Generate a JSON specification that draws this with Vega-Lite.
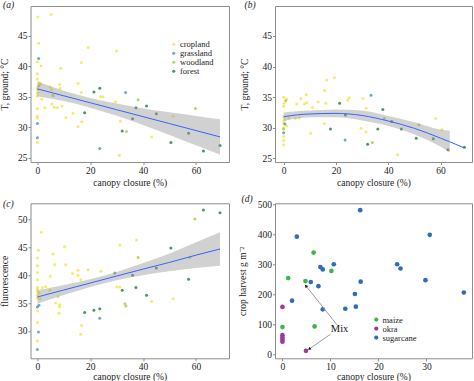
{
  "$schema": "https://vega.github.io/schema/vega-lite/v6.json",
  "autosize": {"type": "none"},
  "padding": {"left": 30.5, "top": 6, "right": 443.5, "bottom": 375},
  "background": "white",
  "config": {
    "font": "Liberation Serif",
    "view": {"stroke": "#8c8c8c", "strokeWidth": 1},
    "axis": {"domain": false, "grid": false, "tickColor": "#8c8c8c", "tickSize": 2.5, "labelFontSize": 9.5, "labelColor": "#222222", "titleFontSize": 9.5, "titleFontWeight": "normal", "titleColor": "#222222", "labelFont": "Liberation Serif", "titleFont": "Liberation Serif", "labelOverlap": false, "labelBound": false, "labelFlush": false},
    "axisX": {"labelPadding": 0.5, "titlePadding": 3},
    "axisY": {"labelPadding": 1},
    "legend": {"title": null, "labelFont": "Liberation Serif", "labelFontSize": 8.5, "labelColor": "#222222", "rowPadding": -3, "labelOffset": 2, "symbolType": "circle", "symbolStrokeWidth": 0, "orient": "none"},
    "title": {"anchor": "start", "frame": "group", "offset": 0, "baseline": "middle", "fontSize": 9.5, "fontStyle": "italic", "fontWeight": "normal", "font": "Liberation Serif", "color": "#222222"}
  },
  "datasets": {
    "ptsA": [
      {"x":0.2,"y":48.1,"type":"cropland"},{"x":5.2,"y":48.5,"type":"cropland"},{"x":0.5,"y":43.8,"type":"cropland"},{"x":19.2,"y":43.1,"type":"cropland"},{"x":29.9,"y":42.5,"type":"cropland"},{"x":0,"y":40.7,"type":"cropland"},{"x":1.4,"y":40.1,"type":"cropland"},{"x":16.6,"y":40.6,"type":"cropland"},{"x":8.8,"y":39.7,"type":"cropland"},{"x":0,"y":38.8,"type":"cropland"},{"x":0,"y":37.9,"type":"cropland"},{"x":0.9,"y":37.3,"type":"cropland"},{"x":1.2,"y":37.0,"type":"cropland"},{"x":0,"y":36.5,"type":"cropland"},{"x":0,"y":36.1,"type":"cropland"},{"x":0,"y":35.6,"type":"cropland"},{"x":0,"y":35.1,"type":"cropland"},{"x":4.8,"y":36.6,"type":"cropland"},{"x":5.4,"y":36.2,"type":"cropland"},{"x":8.4,"y":37.0,"type":"cropland"},{"x":8.6,"y":36.4,"type":"cropland"},{"x":15.4,"y":37.2,"type":"cropland"},{"x":16.6,"y":35.7,"type":"cropland"},{"x":23.9,"y":35.0,"type":"cropland"},{"x":24.8,"y":35.0,"type":"cropland"},{"x":1.7,"y":34.6,"type":"cropland"},{"x":5.5,"y":33.8,"type":"cropland"},{"x":6.4,"y":33.3,"type":"cropland"},{"x":2.8,"y":33.2,"type":"cropland"},{"x":9.3,"y":33.5,"type":"cropland"},{"x":0,"y":33.1,"type":"cropland"},{"x":13.5,"y":32.3,"type":"cropland"},{"x":0,"y":31.8,"type":"cropland"},{"x":0,"y":31.5,"type":"cropland"},{"x":10.8,"y":31.6,"type":"cropland"},{"x":16.8,"y":30.9,"type":"cropland"},{"x":15.4,"y":30.1,"type":"cropland"},{"x":0,"y":27.5,"type":"cropland"},{"x":29.5,"y":34.2,"type":"cropland"},{"x":31.4,"y":31.0,"type":"cropland"},{"x":31.0,"y":25.4,"type":"cropland"},{"x":43.2,"y":28.4,"type":"cropland"},{"x":51.4,"y":31.8,"type":"cropland"},{"x":7.6,"y":33.2,"type":"cropland"},
      {"x":0.5,"y":36.8,"type":"woodland"},{"x":33.7,"y":29.3,"type":"woodland"},{"x":38.1,"y":34.5,"type":"woodland"},{"x":59.8,"y":33.1,"type":"woodland"},{"x":5.9,"y":35.2,"type":"woodland"},
      {"x":0.5,"y":41.3,"type":"grassland"},{"x":0,"y":30.6,"type":"grassland"},{"x":0,"y":28.3,"type":"grassland"},{"x":23.6,"y":26.5,"type":"grassland"},{"x":33.4,"y":35.7,"type":"grassland"},
      {"x":17.9,"y":32.4,"type":"forest"},{"x":21.4,"y":35.8,"type":"forest"},{"x":23.6,"y":36.4,"type":"forest"},{"x":32.1,"y":29.4,"type":"forest"},{"x":36.0,"y":31.4,"type":"forest"},{"x":37.3,"y":33.2,"type":"forest"},{"x":41.3,"y":33.5,"type":"forest"},{"x":45.0,"y":32.2,"type":"forest"},{"x":50.5,"y":27.5,"type":"forest"},{"x":57.2,"y":29.0,"type":"forest"},{"x":62.8,"y":26.1,"type":"forest"},{"x":69.1,"y":27.0,"type":"forest"}
    ],
    "fitA": [
      {"x":0,"fit":36.3,"lo":35.1,"hi":37.5},{"x":10,"fit":35.16,"lo":34.31,"hi":36.01},{"x":20,"fit":34.02,"lo":33.22,"hi":34.82},{"x":30,"fit":32.88,"lo":31.88,"hi":33.88},{"x":40,"fit":31.74,"lo":30.39,"hi":33.09},{"x":50,"fit":30.6,"lo":28.75,"hi":32.45},{"x":60,"fit":29.46,"lo":27.06,"hi":31.86},{"x":69.1,"fit":28.42,"lo":25.52,"hi":31.32}
    ],
    "ptsB": [
      {"x":0,"y":35.0,"type":"cropland"},{"x":1.1,"y":34.7,"type":"cropland"},{"x":0.2,"y":34.0,"type":"cropland"},{"x":0,"y":33.5,"type":"cropland"},{"x":0,"y":31.8,"type":"cropland"},{"x":0.5,"y":31.3,"type":"cropland"},{"x":0,"y":31.0,"type":"cropland"},{"x":0,"y":30.7,"type":"cropland"},{"x":1.2,"y":30.3,"type":"cropland"},{"x":0,"y":30.0,"type":"cropland"},{"x":0,"y":28.6,"type":"cropland"},{"x":0,"y":27.9,"type":"cropland"},{"x":0,"y":27.2,"type":"cropland"},{"x":5.0,"y":33.9,"type":"cropland"},{"x":6.6,"y":34.8,"type":"cropland"},{"x":8.0,"y":33.9,"type":"cropland"},{"x":8.6,"y":35.4,"type":"cropland"},{"x":8.8,"y":34.1,"type":"cropland"},{"x":10.4,"y":29.1,"type":"cropland"},{"x":11.0,"y":33.3,"type":"cropland"},{"x":13.2,"y":34.2,"type":"cropland"},{"x":15.5,"y":30.7,"type":"cropland"},{"x":15.6,"y":36.1,"type":"cropland"},{"x":16.1,"y":34.0,"type":"cropland"},{"x":16.5,"y":37.8,"type":"cropland"},{"x":19.4,"y":38.2,"type":"cropland"},{"x":24.5,"y":34.5,"type":"cropland"},{"x":25.1,"y":34.9,"type":"cropland"},{"x":29.6,"y":29.9,"type":"cropland"},{"x":30.3,"y":34.8,"type":"cropland"},{"x":31.5,"y":33.2,"type":"cropland"},{"x":31.5,"y":29.3,"type":"cropland"},{"x":43.6,"y":25.6,"type":"cropland"},{"x":58.1,"y":31.5,"type":"cropland"},{"x":60.5,"y":29.7,"type":"cropland"},{"x":6.0,"y":31.6,"type":"cropland"},{"x":4.5,"y":31.5,"type":"cropland"},{"x":2.0,"y":31.6,"type":"cropland"},
      {"x":0.8,"y":34.4,"type":"woodland"},{"x":0,"y":29.8,"type":"woodland"},{"x":33.9,"y":27.6,"type":"woodland"},{"x":38.5,"y":31.5,"type":"woodland"},{"x":51.7,"y":30.5,"type":"woodland"},
      {"x":0,"y":29.2,"type":"grassland"},{"x":23.5,"y":28.0,"type":"grassland"},{"x":33.4,"y":35.3,"type":"grassland"},{"x":0.5,"y":30.6,"type":"grassland"},
      {"x":17.9,"y":29.8,"type":"forest"},{"x":21.4,"y":34.0,"type":"forest"},{"x":23.6,"y":32.1,"type":"forest"},{"x":32.1,"y":27.3,"type":"forest"},{"x":36.0,"y":29.8,"type":"forest"},{"x":37.9,"y":33.0,"type":"forest"},{"x":41.3,"y":31.0,"type":"forest"},{"x":45.0,"y":29.8,"type":"forest"},{"x":50.7,"y":28.3,"type":"forest"},{"x":57.2,"y":28.2,"type":"forest"},{"x":62.8,"y":26.4,"type":"forest"},{"x":69.1,"y":26.8,"type":"forest"}
    ],
    "fitB": [
      {"x":0,"fit":31.8,"lo":31.1,"hi":32.5},{"x":5,"fit":32.1,"lo":31.5,"hi":32.7},{"x":10,"fit":32.25,"lo":31.7,"hi":32.8},{"x":20,"fit":32.35,"lo":31.7,"hi":33.0},{"x":30,"fit":32.0,"lo":31.2,"hi":32.8},{"x":40,"fit":31.1,"lo":30.3,"hi":31.9},{"x":50,"fit":29.9,"lo":28.9,"hi":30.9},{"x":60,"fit":28.3,"lo":26.9,"hi":29.7},{"x":63.5,"fit":27.7,"lo":26.0,"hi":29.5}
    ],
    "fitBtail": [
      {"x":63.5,"fit":27.7},{"x":69.1,"fit":26.7}
    ],
    "ptsC": [
      {"x":1.5,"y":47.7,"type":"cropland"},{"x":0.4,"y":44.5,"type":"cropland"},{"x":0,"y":43.1,"type":"cropland"},{"x":0,"y":41.7,"type":"cropland"},{"x":0,"y":40.5,"type":"cropland"},{"x":0,"y":39.2,"type":"cropland"},{"x":0,"y":37.8,"type":"cropland"},{"x":0,"y":37.5,"type":"cropland"},{"x":0,"y":37.1,"type":"cropland"},{"x":0.5,"y":36.8,"type":"cropland"},{"x":0,"y":36.4,"type":"cropland"},{"x":0,"y":35.9,"type":"cropland"},{"x":1.0,"y":35.8,"type":"cropland"},{"x":0,"y":31.5,"type":"cropland"},{"x":0,"y":28.2,"type":"cropland"},{"x":5.9,"y":43.8,"type":"cropland"},{"x":10.3,"y":45.1,"type":"cropland"},{"x":6.6,"y":41.9,"type":"cropland"},{"x":10.7,"y":41.9,"type":"cropland"},{"x":3.1,"y":38.0,"type":"cropland"},{"x":1.9,"y":37.8,"type":"cropland"},{"x":7.8,"y":36.2,"type":"cropland"},{"x":6.9,"y":35.0,"type":"cropland"},{"x":8.4,"y":34.7,"type":"cropland"},{"x":8.4,"y":34.3,"type":"cropland"},{"x":8.2,"y":33.2,"type":"cropland"},{"x":4.9,"y":39.8,"type":"cropland"},{"x":13.3,"y":40.3,"type":"cropland"},{"x":15.4,"y":40.9,"type":"cropland"},{"x":15.4,"y":40.0,"type":"cropland"},{"x":16.4,"y":39.2,"type":"cropland"},{"x":19.2,"y":41.0,"type":"cropland"},{"x":24.0,"y":40.7,"type":"cropland"},{"x":16.7,"y":31.0,"type":"cropland"},{"x":16.4,"y":29.4,"type":"cropland"},{"x":31.2,"y":45.4,"type":"cropland"},{"x":30.1,"y":37.9,"type":"cropland"},{"x":31.2,"y":37.9,"type":"cropland"},{"x":37.5,"y":46.3,"type":"cropland"},{"x":43.2,"y":35.3,"type":"cropland"},{"x":51.4,"y":35.8,"type":"cropland"},{"x":4.8,"y":37.3,"type":"cropland"},{"x":0,"y":33.6,"type":"cropland"},
      {"x":38.1,"y":43.2,"type":"woodland"},{"x":33.1,"y":34.9,"type":"woodland"},{"x":33.5,"y":34.5,"type":"woodland"},{"x":59.6,"y":50.1,"type":"woodland"},{"x":57.7,"y":43.2,"type":"woodland"},
      {"x":0,"y":34.3,"type":"grassland"},{"x":0.6,"y":34.6,"type":"grassland"},{"x":0.4,"y":29.8,"type":"grassland"},{"x":0,"y":26.7,"type":"grassland"},{"x":23.6,"y":32.3,"type":"grassland"},{"x":29.3,"y":40.4,"type":"grassland"},
      {"x":17.9,"y":33.3,"type":"forest"},{"x":21.4,"y":33.7,"type":"forest"},{"x":23.6,"y":34.0,"type":"forest"},{"x":32.1,"y":37.3,"type":"forest"},{"x":36.0,"y":40.0,"type":"forest"},{"x":37.3,"y":37.8,"type":"forest"},{"x":41.3,"y":36.4,"type":"forest"},{"x":45.0,"y":41.3,"type":"forest"},{"x":50.5,"y":44.9,"type":"forest"},{"x":57.2,"y":39.3,"type":"forest"},{"x":62.8,"y":51.7,"type":"forest"},{"x":69.1,"y":51.2,"type":"forest"}
    ],
    "fitC": [
      {"x":0,"fit":36.1,"lo":34.9,"hi":37.3},{"x":10,"fit":37.35,"lo":36.45,"hi":38.25},{"x":20,"fit":38.6,"lo":37.9,"hi":39.3},{"x":30,"fit":39.85,"lo":39.1,"hi":40.6},{"x":40,"fit":41.1,"lo":40.0,"hi":42.2},{"x":50,"fit":42.3,"lo":40.7,"hi":43.9},{"x":60,"fit":43.6,"lo":41.3,"hi":45.9},{"x":69.1,"fit":44.7,"lo":41.7,"hi":47.7}
    ],
    "ptsD": [
      {"x":3.0,"y":392,"crop":"sugarcane"},{"x":7.9,"y":291,"crop":"sugarcane"},{"x":8.4,"y":283,"crop":"sugarcane"},{"x":10.7,"y":300,"crop":"sugarcane"},{"x":5.9,"y":241,"crop":"sugarcane"},{"x":7.5,"y":227,"crop":"sugarcane"},{"x":2.0,"y":179,"crop":"sugarcane"},{"x":8.4,"y":150,"crop":"sugarcane"},{"x":16.2,"y":480,"crop":"sugarcane"},{"x":13.1,"y":152,"crop":"sugarcane"},{"x":15.3,"y":159,"crop":"sugarcane"},{"x":15.1,"y":201,"crop":"sugarcane"},{"x":16.3,"y":242,"crop":"sugarcane"},{"x":30.7,"y":398,"crop":"sugarcane"},{"x":23.9,"y":300,"crop":"sugarcane"},{"x":24.6,"y":286,"crop":"sugarcane"},{"x":29.8,"y":247,"crop":"sugarcane"},{"x":37.8,"y":206,"crop":"sugarcane"},
      {"x":6.5,"y":339,"crop":"maize"},{"x":10.2,"y":278,"crop":"maize"},{"x":1.2,"y":254,"crop":"maize"},{"x":4.8,"y":244,"crop":"maize"},{"x":0,"y":91,"crop":"maize"},{"x":6.7,"y":93,"crop":"maize"},
      {"x":0,"y":158,"crop":"okra"},{"x":0,"y":64,"crop":"okra"},{"x":0,"y":56,"crop":"okra"},{"x":0,"y":49,"crop":"okra"},{"x":0,"y":42,"crop":"okra"},{"x":4.9,"y":12,"crop":"okra"}
    ],
    "arrowsD": [
      {"x":11.4,"y":98,"x2":4.9,"y2":228,"ang":320},
      {"x":10.0,"y":67,"x2":5.6,"y2":18,"ang":235}
    ],
    "labelD": [
      {"x":11.9,"y":84,"text":"Mix"}
    ]
  },
  "columns": 2,
  "bounds": "flush",
  "spacing": {"row": 41.3, "column": 45.5},
  "resolve": {"scale": {"color": "independent", "x": "independent", "y": "independent"}, "legend": {"color": "independent"}},
  "concat": [
    {
      "width": 198.5, "height": 156,
      "title": {"text": "(a)", "dx": -27.5, "dy": 7},
      "layer": [
        {"data": {"name": "ptsA"}, "mark": {"type": "circle", "size": 9, "opacity": 0.8},
         "encoding": {
           "x": {"field": "x", "type": "quantitative", "scale": {"domain": [-2.6, 72.5], "nice": false, "zero": false}, "axis": {"values": [0,20,40,60], "tickCount": 20, "title": "canopy closure (%)"}},
           "y": {"field": "y", "type": "quantitative", "scale": {"domain": [24.3, 49.9], "nice": false, "zero": false}, "axis": {"values": [25,30,35,40,45], "tickCount": 20, "title": "T, ground; °C", "titlePadding": 8}},
           "color": {"field": "type", "type": "nominal", "scale": {"domain": ["cropland","grassland","woodland","forest"], "range": ["#f3e646","#4a93ad","#a9c93c","#1f7a3a"]},
             "legend": {"orient": "none", "legendX": 139, "legendY": 34, "symbolSize": 10, "rowPadding": -3}}
         }},
        {"data": {"name": "fitA"}, "mark": {"type": "area", "color": "#999999", "opacity": 0.45, "interpolate": "monotone"},
         "encoding": {"x": {"field": "x", "type": "quantitative", "title": "canopy closure (%)"}, "y": {"field": "lo", "type": "quantitative", "title": "T, ground; °C"}, "y2": {"field": "hi"}}},
        {"data": {"name": "fitA"}, "mark": {"type": "line", "color": "#3366ff", "strokeWidth": 1, "interpolate": "monotone"},
         "encoding": {"x": {"field": "x", "type": "quantitative", "title": "canopy closure (%)"}, "y": {"field": "fit", "type": "quantitative", "title": "T, ground; °C"}}}
      ]
    },
    {
      "width": 197, "height": 156,
      "title": {"text": "(b)", "dx": -30.5, "dy": 7},
      "layer": [
        {"data": {"name": "ptsB"}, "mark": {"type": "circle", "size": 9, "opacity": 0.8},
         "encoding": {
           "x": {"field": "x", "type": "quantitative", "scale": {"domain": [-3.3, 72], "nice": false, "zero": false}, "axis": {"values": [0,20,40,60], "tickCount": 20, "title": "canopy closure (%)"}},
           "y": {"field": "y", "type": "quantitative", "scale": {"domain": [24.4, 49.9], "nice": false, "zero": false}, "axis": {"values": [25,30,35,40,45], "tickCount": 20, "title": "T, ground; °C", "titlePadding": 12.5}},
           "color": {"field": "type", "type": "nominal", "scale": {"domain": ["cropland","grassland","woodland","forest"], "range": ["#f3e646","#4a93ad","#a9c93c","#1f7a3a"]}, "legend": null}
         }},
        {"data": {"name": "fitB"}, "mark": {"type": "area", "color": "#999999", "opacity": 0.45, "interpolate": "monotone"},
         "encoding": {"x": {"field": "x", "type": "quantitative", "title": "canopy closure (%)"}, "y": {"field": "lo", "type": "quantitative", "title": "T, ground; °C"}, "y2": {"field": "hi"}}},
        {"data": {"name": "fitB"}, "mark": {"type": "line", "color": "#3366ff", "strokeWidth": 1, "interpolate": "monotone"},
         "encoding": {"x": {"field": "x", "type": "quantitative", "title": "canopy closure (%)"}, "y": {"field": "fit", "type": "quantitative", "title": "T, ground; °C"}}},
        {"data": {"name": "fitBtail"}, "mark": {"type": "line", "color": "#3366ff", "strokeWidth": 1},
         "encoding": {"x": {"field": "x", "type": "quantitative", "title": "canopy closure (%)"}, "y": {"field": "fit", "type": "quantitative", "title": "T, ground; °C"}}}
      ]
    },
    {
      "width": 198.5, "height": 155,
      "title": {"text": "(c)", "dx": -27.5, "dy": 8.7},
      "layer": [
        {"data": {"name": "ptsC"}, "mark": {"type": "circle", "size": 9, "opacity": 0.8},
         "encoding": {
           "x": {"field": "x", "type": "quantitative", "scale": {"domain": [-2.6, 72.5], "nice": false, "zero": false}, "axis": {"values": [0,20,40,60], "tickCount": 20, "title": "canopy closure (%)", "titlePadding": 1}},
           "y": {"field": "y", "type": "quantitative", "scale": {"domain": [25.1, 52.9], "nice": false, "zero": false}, "axis": {"values": [30,35,40,45,50], "tickCount": 20, "title": "flurorescence", "titlePadding": 8}},
           "color": {"field": "type", "type": "nominal", "scale": {"domain": ["cropland","grassland","woodland","forest"], "range": ["#f3e646","#4a93ad","#a9c93c","#1f7a3a"]}, "legend": null}
         }},
        {"data": {"name": "fitC"}, "mark": {"type": "area", "color": "#999999", "opacity": 0.45, "interpolate": "monotone"},
         "encoding": {"x": {"field": "x", "type": "quantitative", "title": "canopy closure (%)"}, "y": {"field": "lo", "type": "quantitative", "title": "flurorescence"}, "y2": {"field": "hi"}}},
        {"data": {"name": "fitC"}, "mark": {"type": "line", "color": "#3366ff", "strokeWidth": 1, "interpolate": "monotone"},
         "encoding": {"x": {"field": "x", "type": "quantitative", "title": "canopy closure (%)"}, "y": {"field": "fit", "type": "quantitative", "title": "flurorescence"}}}
      ]
    },
    {
      "width": 197, "height": 155,
      "title": {"text": "(d)", "dx": -33.5, "dy": 8.7},
      "layer": [
        {"data": {"name": "ptsD"}, "mark": {"type": "circle", "size": 22, "opacity": 1},
         "encoding": {
           "x": {"field": "x", "type": "quantitative", "scale": {"domain": [-1.55, 39.5], "nice": false, "zero": false}, "axis": {"values": [0,10,20,30], "tickCount": 20, "title": "canopy closure (%)", "titlePadding": 1}},
           "y": {"field": "y", "type": "quantitative", "scale": {"domain": [-13, 503], "nice": false, "zero": false}, "axis": {"values": [0,100,200,300,400,500], "tickCount": 20, "title": "crop harvest g m⁻²", "titlePadding": 10}},
           "color": {"field": "crop", "type": "nominal", "scale": {"domain": ["maize","okra","sugarcane"], "range": ["#41b549","#9c3a9b","#2f6eb5"]},
             "legend": {"orient": "none", "legendX": 97, "legendY": 112, "symbolSize": 18, "rowPadding": -3.5}}
         }},
        {"data": {"name": "arrowsD"}, "mark": {"type": "rule", "color": "#9a9a9a", "strokeWidth": 1},
         "encoding": {"x": {"field": "x", "type": "quantitative"}, "y": {"field": "y", "type": "quantitative"}, "x2": {"field": "x2"}, "y2": {"field": "y2"}}},
        {"data": {"name": "arrowsD"}, "mark": {"type": "point", "shape": "triangle-up", "filled": true, "color": "#111111", "size": 12, "opacity": 1},
         "encoding": {"x": {"field": "x2", "type": "quantitative"}, "y": {"field": "y2", "type": "quantitative"}, "angle": {"field": "ang", "type": "quantitative", "scale": null}}},
        {"data": {"name": "labelD"}, "mark": {"type": "text", "fontSize": 10.5, "font": "Liberation Serif", "color": "#111111"},
         "encoding": {"x": {"field": "x", "type": "quantitative"}, "y": {"field": "y", "type": "quantitative"}, "text": {"field": "text"}}}
      ]
    }
  ]
}
